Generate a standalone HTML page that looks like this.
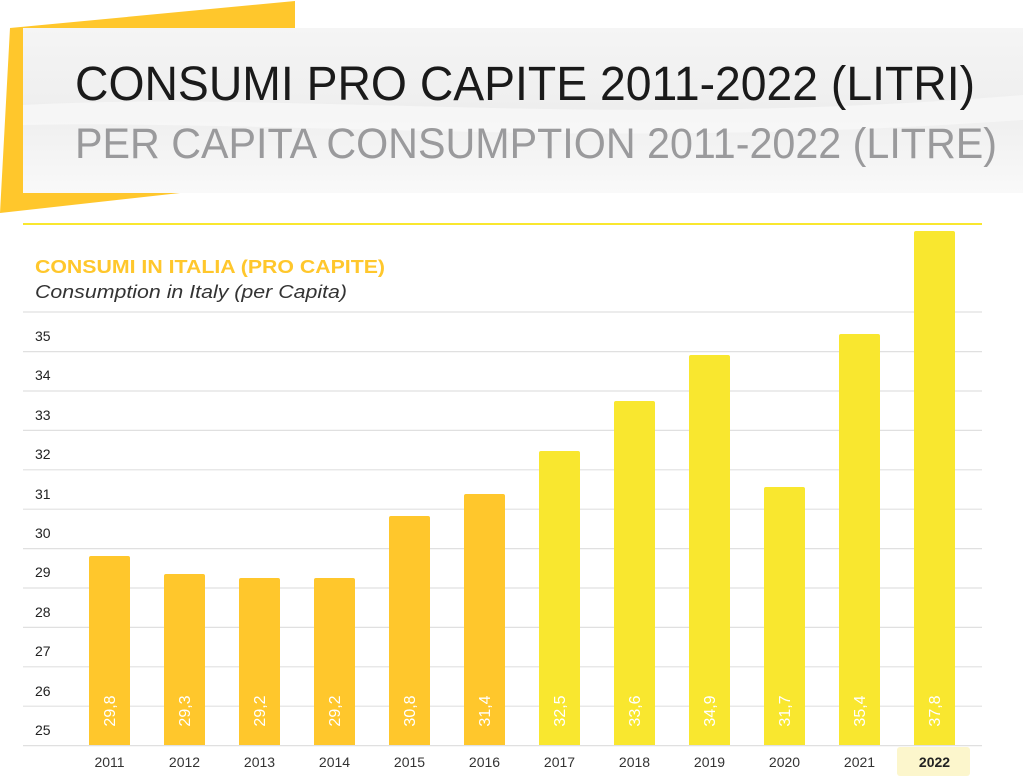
<!DOCTYPE html>
<html><head><meta charset="utf-8"><style>
html,body{margin:0;padding:0;background:#fff;}
svg{display:block;font-family:"Liberation Sans",sans-serif;}
</style></head><body>
<svg width="1024" height="776" viewBox="0 0 1024 776">
<defs>
<linearGradient id="g" x1="0" y1="0" x2="0" y2="1">
<stop offset="0" stop-color="#f5f5f5"/><stop offset="0.5" stop-color="#eeeeee"/><stop offset="1" stop-color="#f9f9f9"/>
</linearGradient>
</defs>
<polygon points="10,28 295,1 295,28 23,28 23,193 180,193 0,213" fill="#FFC72C"/>
<rect x="23" y="28" width="1000" height="165" fill="url(#g)"/>
<path d="M23,105 C300,90 600,130 1023,95 L1023,120 C600,150 300,120 23,125Z" fill="#fafafa" opacity="0.7"/>
<text x="75" y="100" font-size="48" fill="#1a1a1a" textLength="900" lengthAdjust="spacingAndGlyphs">CONSUMI PRO CAPITE 2011-2022 (LITRI)</text>
<text x="75" y="158" font-size="43" fill="#9a9a9c" textLength="922" lengthAdjust="spacingAndGlyphs">PER CAPITA CONSUMPTION 2011-2022 (LITRE)</text>
<line x1="23" y1="224" x2="982" y2="224" stroke="#F9E72F" stroke-width="2"/>
<text x="35" y="273" font-size="18" font-weight="bold" fill="#FFC72C" textLength="350" lengthAdjust="spacingAndGlyphs">CONSUMI IN ITALIA (PRO CAPITE)</text>
<text x="35" y="298" font-size="18" font-style="italic" fill="#333" textLength="312" lengthAdjust="spacingAndGlyphs">Consumption in Italy (per Capita)</text>
<g stroke="#e0e0e0" stroke-width="1.2">
<line x1="23" y1="312" x2="982" y2="312"/><line x1="23" y1="351.6" x2="982" y2="351.6"/>
<line x1="23" y1="391" x2="982" y2="391"/><line x1="23" y1="430.4" x2="982" y2="430.4"/>
<line x1="23" y1="469.8" x2="982" y2="469.8"/><line x1="23" y1="509.2" x2="982" y2="509.2"/>
<line x1="23" y1="548.6" x2="982" y2="548.6"/><line x1="23" y1="588" x2="982" y2="588"/>
<line x1="23" y1="627.4" x2="982" y2="627.4"/><line x1="23" y1="666.8" x2="982" y2="666.8"/>
<line x1="23" y1="706.2" x2="982" y2="706.2"/><line x1="23" y1="745.6" x2="982" y2="745.6"/>
</g>
<g font-size="14" fill="#222">
<text x="35" y="735">25</text><text x="35" y="696">26</text><text x="35" y="656">27</text>
<text x="35" y="617">28</text><text x="35" y="577">29</text><text x="35" y="538">30</text>
<text x="35" y="499">31</text><text x="35" y="459">32</text><text x="35" y="420">33</text>
<text x="35" y="380">34</text><text x="35" y="341">35</text>
</g>
<g>
<path d="M89,745 V558 Q89,556 91,556 H128 Q130,556 130,558 V745Z" fill="#FFC72C"/>
<path d="M164,745 V576 Q164,574 166,574 H203 Q205,574 205,576 V745Z" fill="#FFC72C"/>
<path d="M239,745 V580 Q239,578 241,578 H278 Q280,578 280,580 V745Z" fill="#FFC72C"/>
<path d="M314,745 V580 Q314,578 316,578 H353 Q355,578 355,580 V745Z" fill="#FFC72C"/>
<path d="M389,745 V518 Q389,516 391,516 H428 Q430,516 430,518 V745Z" fill="#FFC72C"/>
<path d="M464,745 V496 Q464,494 466,494 H503 Q505,494 505,496 V745Z" fill="#FFC72C"/>
<path d="M539,745 V453 Q539,451 541,451 H578 Q580,451 580,453 V745Z" fill="#F9E72F"/>
<path d="M614,745 V403 Q614,401 616,401 H653 Q655,401 655,403 V745Z" fill="#F9E72F"/>
<path d="M689,745 V357 Q689,355 691,355 H728 Q730,355 730,357 V745Z" fill="#F9E72F"/>
<path d="M764,745 V489 Q764,487 766,487 H803 Q805,487 805,489 V745Z" fill="#F9E72F"/>
<path d="M839,745 V336 Q839,334 841,334 H878 Q880,334 880,336 V745Z" fill="#F9E72F"/>
<path d="M914,745 V233 Q914,231 916,231 H953 Q955,231 955,233 V745Z" fill="#F9E72F"/>
</g>
<g font-size="16" fill="#fff" text-anchor="middle">
<text transform="translate(115,711) rotate(-90)">29,8</text>
<text transform="translate(190,711) rotate(-90)">29,3</text>
<text transform="translate(265,711) rotate(-90)">29,2</text>
<text transform="translate(340,711) rotate(-90)">29,2</text>
<text transform="translate(415,711) rotate(-90)">30,8</text>
<text transform="translate(490,711) rotate(-90)">31,4</text>
<text transform="translate(565,711) rotate(-90)">32,5</text>
<text transform="translate(640,711) rotate(-90)">33,6</text>
<text transform="translate(715,711) rotate(-90)">34,9</text>
<text transform="translate(790,711) rotate(-90)">31,7</text>
<text transform="translate(865,711) rotate(-90)">35,4</text>
<text transform="translate(940,711) rotate(-90)">37,8</text>
</g>
<rect x="897" y="747" width="73" height="29" rx="3" fill="#FCF6CC"/>
<g font-size="14" fill="#333" text-anchor="middle">
<text x="109.5" y="767">2011</text><text x="184.5" y="767">2012</text><text x="259.5" y="767">2013</text>
<text x="334.5" y="767">2014</text><text x="409.5" y="767">2015</text><text x="484.5" y="767">2016</text>
<text x="559.5" y="767">2017</text><text x="634.5" y="767">2018</text><text x="709.5" y="767">2019</text>
<text x="784.5" y="767">2020</text><text x="859.5" y="767">2021</text>
<text x="934.5" y="767" font-weight="bold" fill="#222">2022</text>
</g>
</svg>
</body></html>
